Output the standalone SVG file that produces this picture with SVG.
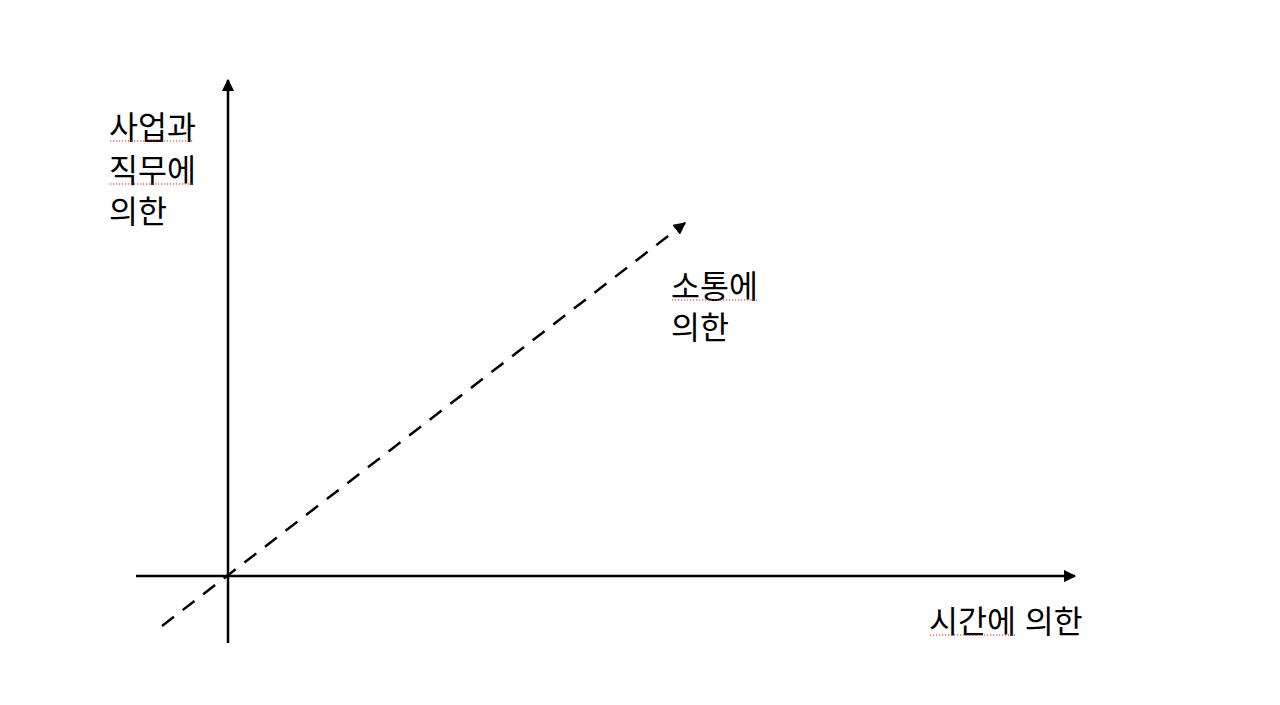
<svg xmlns="http://www.w3.org/2000/svg" width="1280" height="705" viewBox="0 0 1280 705">
<style>
.ax{stroke:#000;stroke-width:2.5;fill:none}
.ds{stroke:#000;stroke-width:2.5;fill:none;stroke-dasharray:15 11}
.t{font-family:"Liberation Sans","Noto Sans CJK KR",sans-serif;font-size:31.5px;fill:#000}
.sq{stroke:#e02020;stroke-width:1.2;stroke-dasharray:1.2 1.8;fill:none}
</style>
<defs>
<marker id="ah" viewBox="0 0 10 10" refX="9" refY="5" markerWidth="5" markerHeight="5" markerUnits="strokeWidth" orient="auto">
<path d="M0,0 L10,5 L0,10 z" fill="#000"/>
</marker>
</defs>
<rect width="1280" height="705" fill="#fff"/>
<g id="connectors">
<line class="ax" x1="228" y1="643" x2="228" y2="80" marker-end="url(#ah)"/>
<line class="ax" x1="136" y1="576" x2="1075" y2="576" marker-end="url(#ah)"/>
<line class="ds" x1="162" y1="626" x2="685" y2="223" marker-end="url(#ah)"/>
</g>
<g id="label-y">
<text class="t" x="109" y="139">사업과</text>
<text class="t" x="109" y="182">직무에</text>
<text class="t" x="109" y="223">의한</text>
<line class="sq" x1="110" y1="141" x2="194" y2="141"/>
<line class="sq" x1="110" y1="184" x2="194" y2="184"/>
</g>
<g id="label-diag">
<text class="t" x="671" y="298">소통에</text>
<text class="t" x="671" y="339">의한</text>
<line class="sq" x1="672" y1="300" x2="758" y2="300"/>
</g>
<g id="label-x">
<text class="t" x="929" y="633">시간에 의한</text>
<line class="sq" x1="930" y1="635" x2="1015" y2="635"/>
</g>
</svg>
